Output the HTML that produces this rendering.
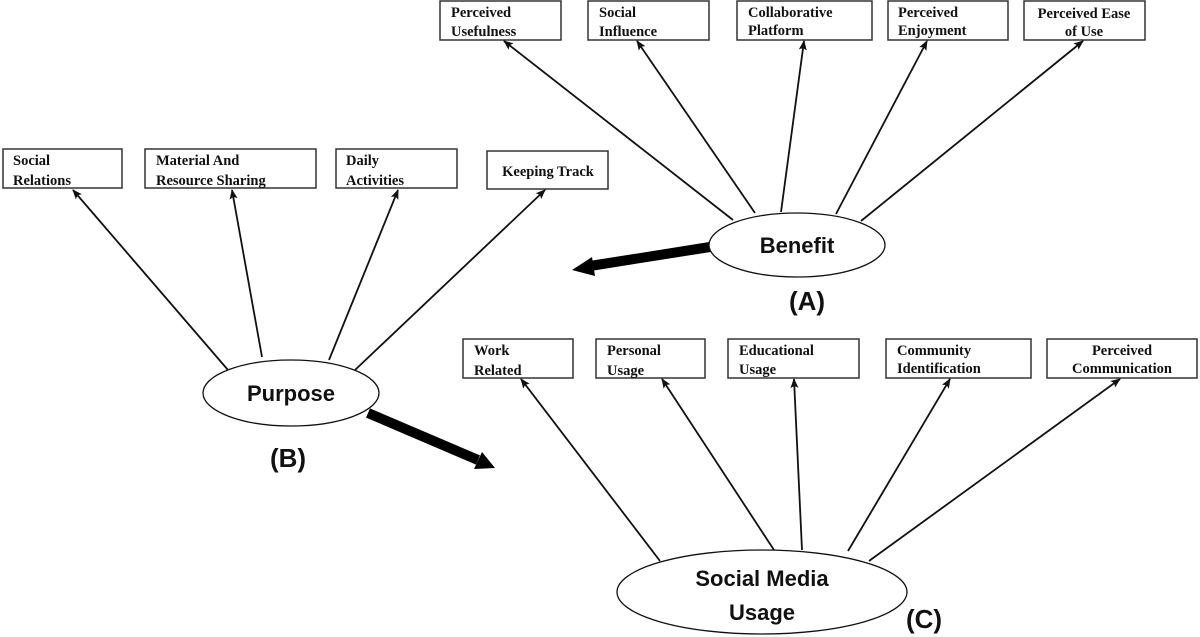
<!DOCTYPE html>
<html><head><meta charset="utf-8"><style>
html,body{margin:0;padding:0;background:#fff;}
svg{display:block;}
.b{fill:#fff;stroke:#333;stroke-width:1.5;}
.t{font-family:"Liberation Serif",serif;font-weight:bold;font-size:14.5px;fill:#111;}
.e{fill:#fff;stroke:#111;stroke-width:1.3;}
.et{font-family:"Liberation Sans",sans-serif;font-weight:bold;font-size:22px;fill:#111;text-anchor:middle;}
.lb{font-family:"Liberation Sans",sans-serif;font-weight:bold;font-size:26px;fill:#111;text-anchor:middle;}
.l{stroke:#111;stroke-width:1.8;marker-end:url(#ah);}
</style></head><body>
<svg width="1200" height="637" viewBox="0 0 1200 637" xmlns="http://www.w3.org/2000/svg">
<defs>
<marker id="ah" markerWidth="10" markerHeight="10" refX="9" refY="5" orient="auto" markerUnits="userSpaceOnUse"><path d="M0,1 L10,5 L0,9 L2,5 Z" fill="#111"/></marker>
</defs>
<rect class="b" x="440" y="1" width="121" height="39"/>
<text class="t" x="451" y="17">Perceived</text><text class="t" x="451" y="36">Usefulness</text>
<rect class="b" x="588" y="1" width="121" height="39"/>
<text class="t" x="599" y="17">Social</text><text class="t" x="599" y="36">Influence</text>
<rect class="b" x="737" y="1" width="135" height="39"/>
<text class="t" x="748" y="17">Collaborative</text><text class="t" x="748" y="35">Platform</text>
<rect class="b" x="888" y="1" width="120" height="39"/>
<text class="t" x="898" y="17">Perceived</text><text class="t" x="898" y="35">Enjoyment</text>
<rect class="b" x="1024" y="1" width="121" height="39"/>
<text class="t" x="1084" y="18" text-anchor="middle">Perceived Ease</text><text class="t" x="1084" y="36" text-anchor="middle">of Use</text>
<line class="l" x1="733" y1="220" x2="504" y2="41"/>
<line class="l" x1="755" y1="213" x2="637" y2="41"/>
<line class="l" x1="781" y1="212" x2="804" y2="41"/>
<line class="l" x1="836" y1="214" x2="927" y2="41"/>
<line class="l" x1="861" y1="221" x2="1083" y2="41"/>
<line x1="710" y1="247" x2="590" y2="266" stroke="#000" stroke-width="10"/>
<path d="M572,270 L592,257 L595,276 Z" fill="#000"/>
<ellipse class="e" cx="797" cy="245" rx="88" ry="32"/>
<text class="et" x="797" y="253">Benefit</text>
<text class="lb" x="807" y="310">(A)</text>
<rect class="b" x="3" y="149" width="119" height="39"/>
<text class="t" x="13" y="165">Social</text><text class="t" x="13" y="185">Relations</text>
<rect class="b" x="145" y="149" width="171" height="39"/>
<text class="t" x="156" y="165">Material And</text><text class="t" x="156" y="185">Resource Sharing</text>
<rect class="b" x="336" y="149" width="121" height="39"/>
<text class="t" x="346" y="165">Daily</text><text class="t" x="346" y="185">Activities</text>
<rect class="b" x="487" y="151" width="121" height="38"/>
<text class="t" x="548" y="176" text-anchor="middle">Keeping Track</text>
<line class="l" x1="228" y1="370" x2="73" y2="190"/>
<line class="l" x1="262" y1="357" x2="232" y2="190"/>
<line class="l" x1="329" y1="360" x2="398" y2="190"/>
<line class="l" x1="355" y1="370" x2="545" y2="190"/>
<line x1="368" y1="413" x2="478" y2="460" stroke="#000" stroke-width="10"/>
<path d="M495,468 L474,469 L482,452 Z" fill="#000"/>
<ellipse class="e" cx="291" cy="393" rx="88" ry="33"/>
<text class="et" x="291" y="401">Purpose</text>
<text class="lb" x="288" y="467">(B)</text>
<rect class="b" x="463" y="339" width="110" height="39"/>
<text class="t" x="474" y="355">Work</text><text class="t" x="474" y="375">Related</text>
<rect class="b" x="596" y="339" width="109" height="39"/>
<text class="t" x="607" y="355">Personal</text><text class="t" x="607" y="375">Usage</text>
<rect class="b" x="728" y="339" width="131" height="39"/>
<text class="t" x="739" y="355">Educational</text><text class="t" x="739" y="374">Usage</text>
<rect class="b" x="886" y="339" width="145" height="39"/>
<text class="t" x="897" y="355">Community</text><text class="t" x="897" y="373">Identification</text>
<rect class="b" x="1047" y="339" width="150" height="39"/>
<text class="t" x="1122" y="355" text-anchor="middle">Perceived</text><text class="t" x="1122" y="373" text-anchor="middle">Communication</text>
<line class="l" x1="660" y1="561" x2="521" y2="379"/>
<line class="l" x1="774" y1="550" x2="662" y2="379"/>
<line class="l" x1="802" y1="550" x2="794" y2="379"/>
<line class="l" x1="848" y1="551" x2="950" y2="379"/>
<line class="l" x1="869" y1="561" x2="1120" y2="379"/>
<ellipse class="e" cx="762" cy="592" rx="145" ry="42"/>
<text class="et" x="762" y="586">Social Media</text>
<text class="et" x="762" y="620">Usage</text>
<text class="lb" x="924" y="628">(C)</text>
</svg>
</body></html>
